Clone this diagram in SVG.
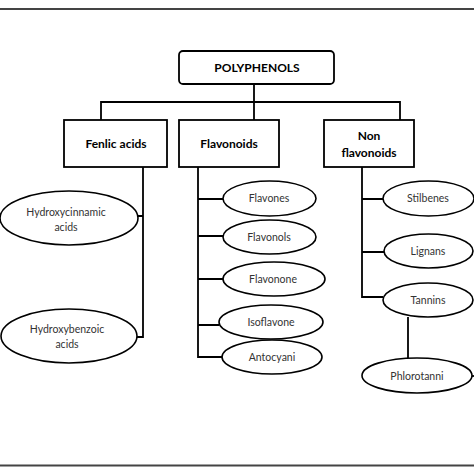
<svg xmlns="http://www.w3.org/2000/svg" width="474" height="474" viewBox="0 0 474 474">
<style>
.box{fill:#fff;stroke:#000;stroke-width:1.8}
.ell{fill:#fff;stroke:#000;stroke-width:1.6}
.con{fill:none;stroke:#000;stroke-width:1.8}
.rule{stroke:#444;stroke-width:2}
.bt{font-family:Lato,"Liberation Sans",sans-serif;font-weight:bold;font-size:12px;fill:#000;text-anchor:middle}
.lt{font-family:Lato,"Liberation Sans",sans-serif;font-size:10.5px;fill:#333;text-anchor:middle}
</style>
<rect width="474" height="474" fill="#fff"/>
<line class="rule" x1="0" y1="9" x2="474" y2="9"/>
<line class="rule" x1="0" y1="465.5" x2="474" y2="465.5"/>
<g id="connectors">
<path class="con" d="M254,84 V102 M101,120 V102 H400 V120 M254,102 V120"/>
<path class="con" d="M167,167 M143,167 V337 H137 M143,216 H138"/>
<path class="con" d="M198,167 V357 H223 M198,199 H223 M198,236 H223 M198,279 H223 M198,325 H219"/>
<path class="con" d="M362,167 V297 H383 M362,199 H383 M362,252 H384"/>
<path class="con" d="M408,317 V358"/>
<path class="con" d="M462,376 H474"/>
</g>
<g id="polyphenols"><rect class="box" x="179" y="51" width="155" height="33" rx="4"/><text class="bt" x="257" y="72">POLYPHENOLS</text></g>
<g id="fenlic"><rect class="box" x="64" y="120" width="103" height="47"/><text class="bt" x="116" y="148">Fenlic acids</text></g>
<g id="flavonoids"><rect class="box" x="179" y="120" width="100" height="47"/><text class="bt" x="229" y="148">Flavonoids</text></g>
<g id="nonflavonoids"><rect class="box" x="324" y="120" width="90" height="47"/><text class="bt" x="369" y="140">Non</text><text class="bt" x="369" y="157">flavonoids</text></g>
<g id="hydroxycinnamic"><ellipse class="ell" cx="69" cy="218" rx="69" ry="27"/><text class="lt" x="66" y="216">Hydroxycinnamic</text><text class="lt" x="66" y="231">acids</text></g>
<g id="hydroxybenzoic"><ellipse class="ell" cx="69" cy="336" rx="68" ry="27"/><text class="lt" x="67" y="333">Hydroxybenzoic</text><text class="lt" x="67" y="348">acids</text></g>
<g id="flavones"><ellipse class="ell" cx="269.5" cy="198.5" rx="46.5" ry="17.5"/><text class="lt" x="269" y="202">Flavones</text></g>
<g id="flavonols"><ellipse class="ell" cx="269.5" cy="237" rx="46.5" ry="17"/><text class="lt" x="269" y="241">Flavonols</text></g>
<g id="flavonone"><ellipse class="ell" cx="274" cy="279" rx="51" ry="17"/><text class="lt" x="273" y="283">Flavonone</text></g>
<g id="isoflavone"><ellipse class="ell" cx="271" cy="322" rx="52" ry="17"/><text class="lt" x="271" y="326">Isoflavone</text></g>
<g id="antocyani"><ellipse class="ell" cx="272" cy="357" rx="50" ry="17"/><text class="lt" x="272" y="361">Antocyani</text></g>
<g id="stilbenes"><ellipse class="ell" cx="428.5" cy="198.5" rx="45.5" ry="17.5"/><text class="lt" x="428" y="202">Stilbenes</text></g>
<g id="lignans"><ellipse class="ell" cx="428.5" cy="251" rx="44.5" ry="17"/><text class="lt" x="428" y="255">Lignans</text></g>
<g id="tannins"><ellipse class="ell" cx="428" cy="300" rx="45" ry="17"/><text class="lt" x="428" y="304">Tannins</text></g>
<g id="phlorotanni"><ellipse class="ell" cx="417" cy="375.5" rx="55" ry="17.5"/><text class="lt" x="417" y="380">Phlorotanni</text></g>
</svg>
